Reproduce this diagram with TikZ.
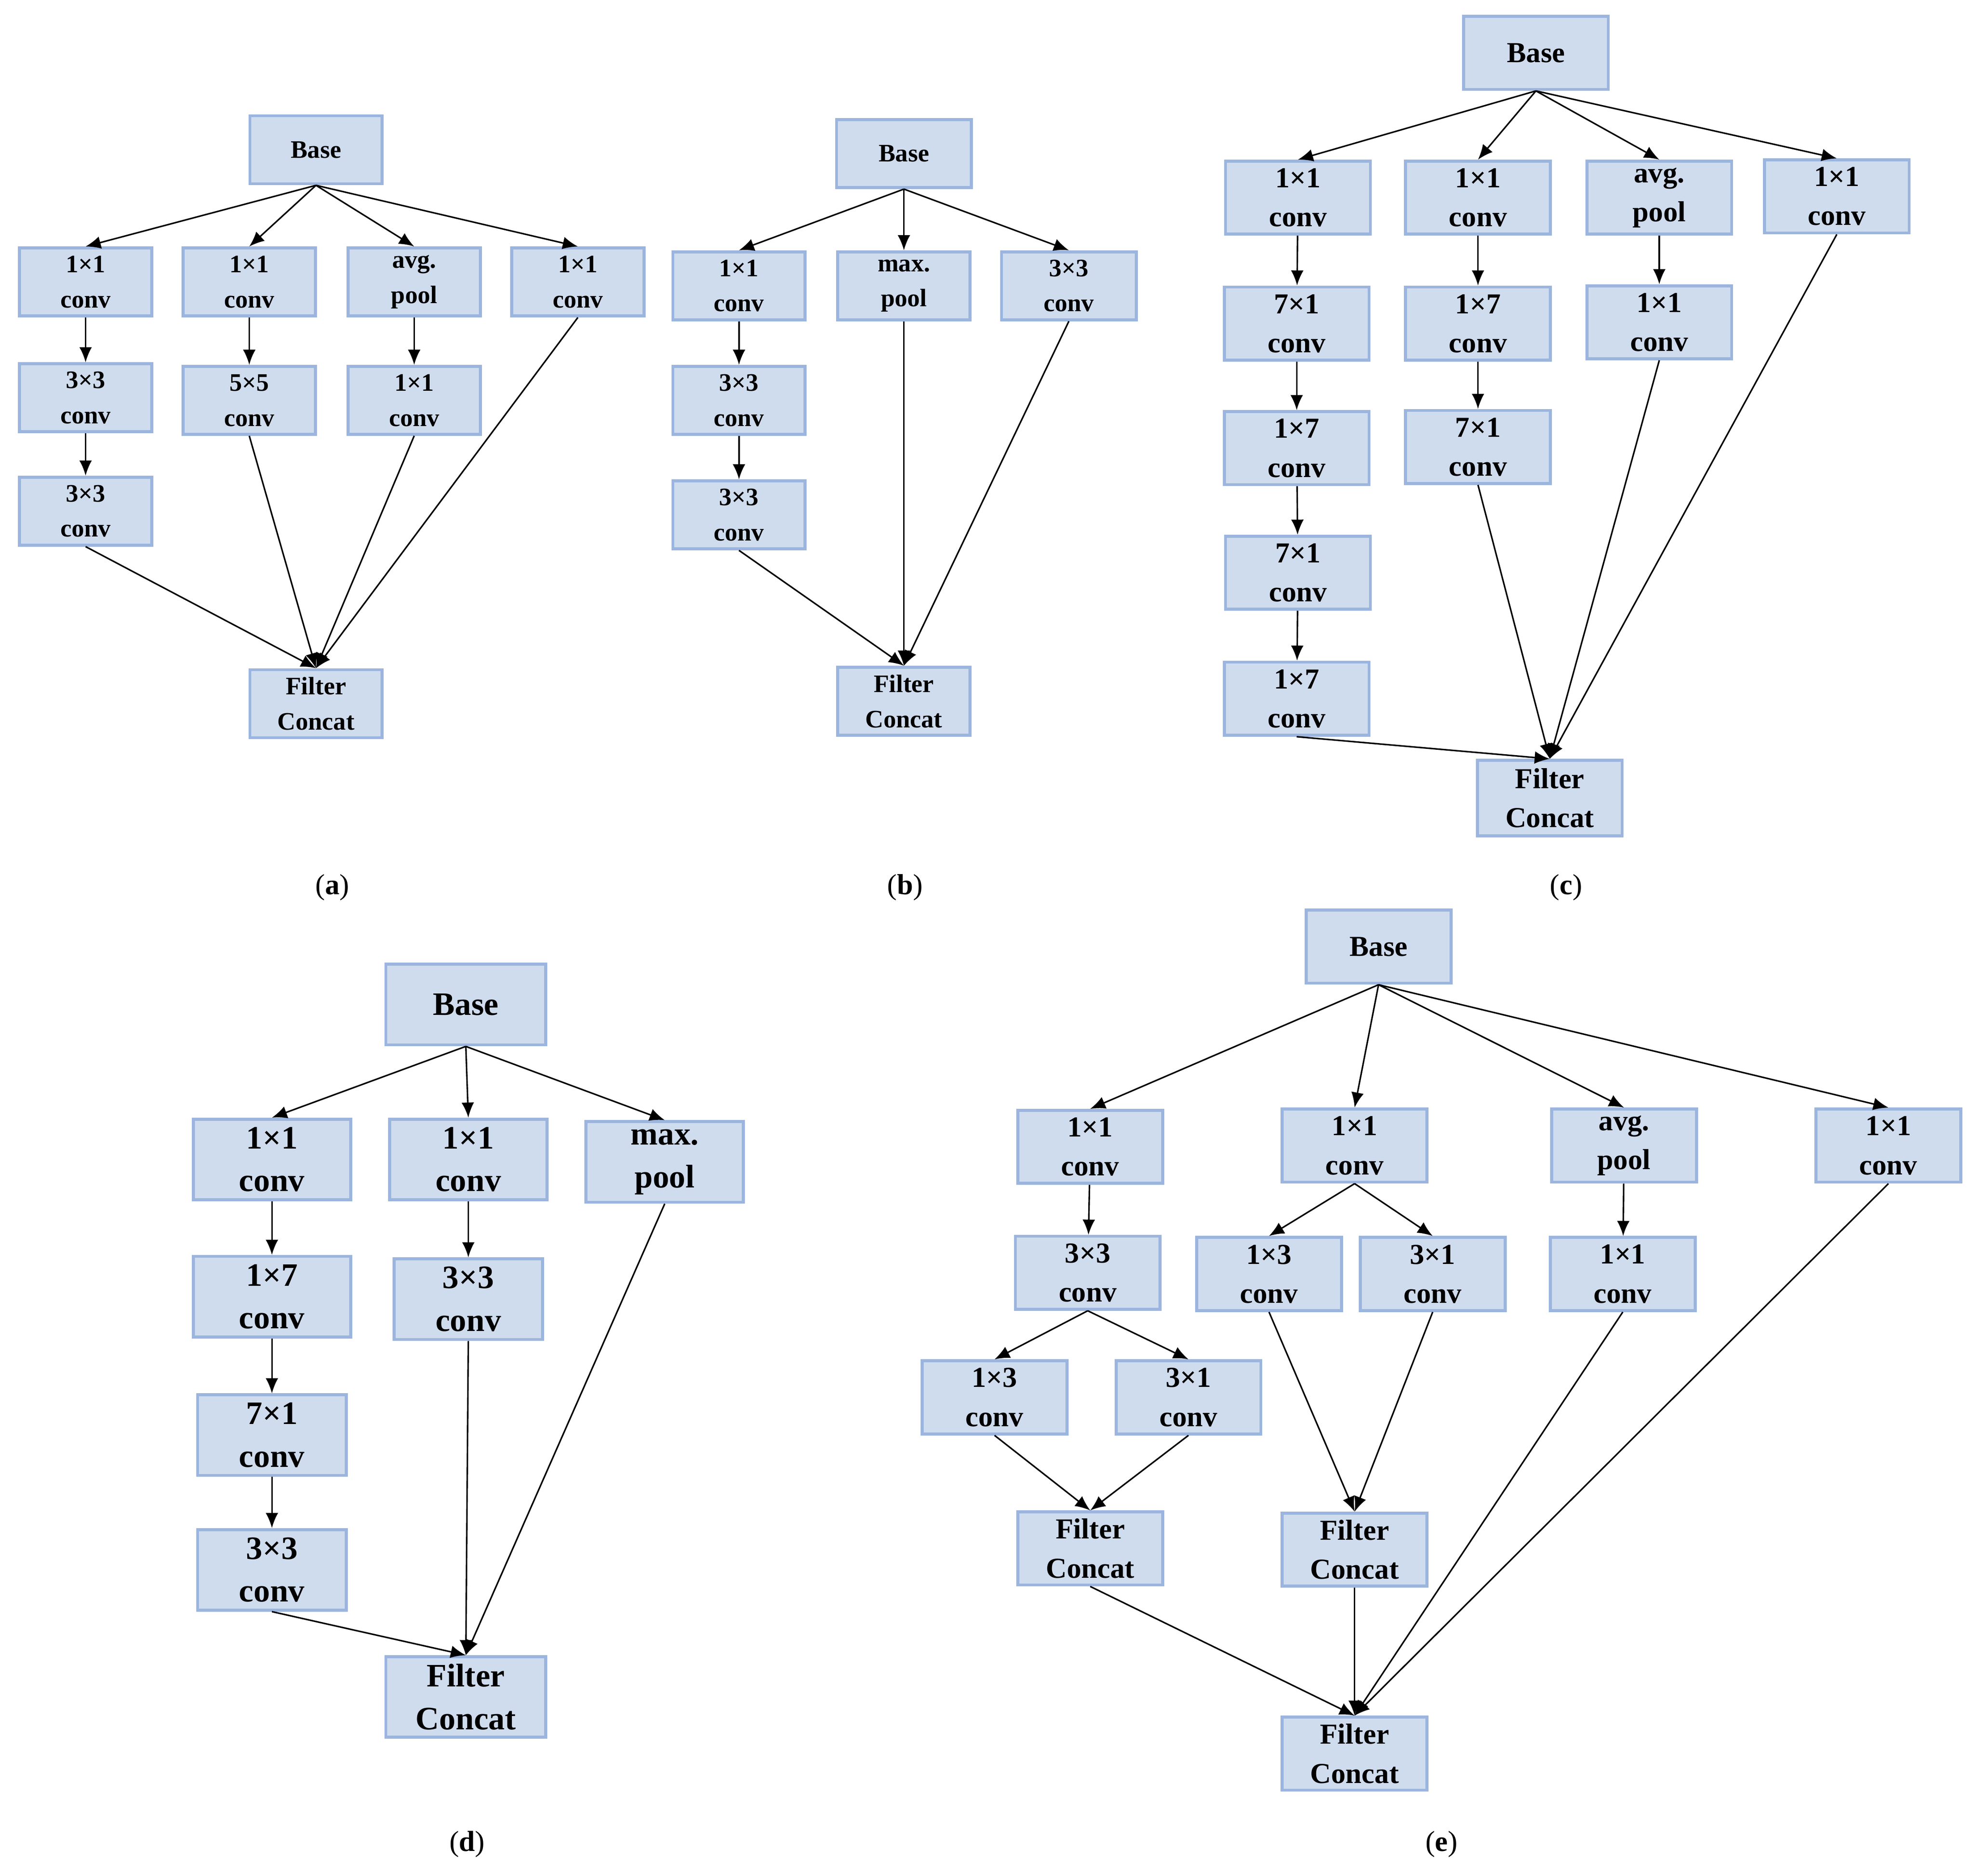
\documentclass[tikz,border=0pt]{standalone}
\usepackage{fontspec}
\setmainfont{Liberation Serif}
\usetikzlibrary{arrows.meta}
\definecolor{bfill}{HTML}{CFDCEE}
\definecolor{bdraw}{HTML}{9BB5DE}
\tikzset{
 bx/.style={draw=bdraw,fill=bfill,line width=1.2pt,inner sep=0pt,align=center,font=\bfseries},
 ar/.style={-{Latex[length=6pt,width=5pt]},line width=0.6pt},
 ln/.style={line width=0.6pt},
 fa/.style={font=\fontsize{10}{14}\selectfont\bfseries},
 fc/.style={font=\fontsize{11.5}{15.5}\selectfont\bfseries},
 fd/.style={font=\fontsize{13}{17}\selectfont\bfseries},
 lab/.style={font=\fontsize{11.5}{14}\selectfont}
}
% \B{name}{x}{y}{w}{h}{fontstyle}{text}
\newcommand{\B}[7]{\node[bx,#6,minimum width={#4*0.5pt},minimum height={#5*0.5pt}] (#1) at (#2,#3) {#7};}
\begin{document}
\begin{tikzpicture}[x=0.5pt,y=-0.5pt]
\useasboundingbox (0,0) rectangle (1568,1490);
% (a)
\B{aB}{251}{119}{105}{54}{fa}{Base}
\B{a1}{68}{224}{105}{54}{fa}{1×1\\conv}
\B{a2}{198}{224}{105}{54}{fa}{1×1\\conv}
\B{a3}{329}{224}{105}{54}{fa}{avg.\\pool}
\B{a4}{459}{224}{105}{54}{fa}{1×1\\conv}
\B{a5}{68}{316}{105}{54}{fa}{3×3\\conv}
\B{a6}{198}{318}{105}{54}{fa}{5×5\\conv}
\B{a7}{329}{318}{105}{54}{fa}{1×1\\conv}
\B{a8}{68}{406}{105}{54}{fa}{3×3\\conv}
\B{aF}{251}{559}{105}{54}{fa}{Filter\\Concat}
\foreach \n in {a1,a2,a3,a4} \draw[ar] (aB.south) -- (\n.north);
\draw[ar] (a1) -- (a5); \draw[ar] (a5) -- (a8); \draw[ar] (a2) -- (a6); \draw[ar] (a3) -- (a7);
\foreach \n in {a8,a6,a7,a4} \draw[ar] (\n.south) -- (aF.north);
\node[lab] (la) at (264,705) {(\textbf{a})};
% (b)
\B{bB}{718}{122}{107}{54}{fa}{Base}
\B{b1}{587}{227}{105}{54}{fa}{1×1\\conv}
\B{b2}{718}{227}{105}{54}{fa}{max.\\pool}
\B{b3}{849}{227}{107}{54}{fa}{3×3\\conv}
\B{b4}{587}{318}{105}{54}{fa}{3×3\\conv}
\B{b5}{587}{409}{105}{54}{fa}{3×3\\conv}
\B{bF}{718}{557}{105}{54}{fa}{Filter\\Concat}
\foreach \n in {b1,b2,b3} \draw[ar] (bB.south) -- (\n.north);
\draw[ar] (b1) -- (b4); \draw[ar] (b4) -- (b5);
\foreach \n in {b5,b2,b3} \draw[ar] (\n.south) -- (bF.north);
\node[lab] (lb) at (719,705) {(\textbf{b})};
% (c)
\B{cB}{1220}{42}{115}{58}{fc}{Base}
\B{c1}{1031}{157}{115}{58}{fc}{1×1\\conv}
\B{c2}{1174}{157}{115}{58}{fc}{1×1\\conv}
\B{c3}{1318}{157}{115}{58}{fc}{avg.\\pool}
\B{c4}{1459}{156}{115}{58}{fc}{1×1\\conv}
\B{c5}{1030}{257}{115}{58}{fc}{7×1\\conv}
\B{c6}{1030}{356}{115}{58}{fc}{1×7\\conv}
\B{c7}{1031}{455}{115}{58}{fc}{7×1\\conv}
\B{c8}{1030}{555}{115}{58}{fc}{1×7\\conv}
\B{c9}{1174}{257}{115}{58}{fc}{1×7\\conv}
\B{c10}{1174}{355}{115}{58}{fc}{7×1\\conv}
\B{c11}{1318}{256}{115}{58}{fc}{1×1\\conv}
\B{cF}{1231}{634}{115}{60}{fc}{Filter\\Concat}
\foreach \n in {c1,c2,c3,c4} \draw[ar] (cB.south) -- (\n.north);
\draw[ar] (c1) -- (c5); \draw[ar] (c5) -- (c6); \draw[ar] (c6) -- (c7); \draw[ar] (c7) -- (c8);
\draw[ar] (c2) -- (c9); \draw[ar] (c9) -- (c10); \draw[ar] (c3) -- (c11);
\foreach \n in {c8,c10,c11,c4} \draw[ar] (\n.south) -- (cF.north);
\node[lab] (lc) at (1244,705) {(\textbf{c})};
% (d)
\B{dB}{370}{798}{127}{64}{fd}{Base}
\B{d1}{216}{921}{125}{64}{fd}{1×1\\conv}
\B{d2}{372}{921}{125}{64}{fd}{1×1\\conv}
\B{d3}{528}{923}{125}{64}{fd}{max.\\pool}
\B{d4}{216}{1030}{125}{64}{fd}{1×7\\conv}
\B{d5}{216}{1140}{118}{64}{fd}{7×1\\conv}
\B{d6}{216}{1247}{118}{64}{fd}{3×3\\conv}
\B{d7}{372}{1032}{118}{64}{fd}{3×3\\conv}
\B{dF}{370}{1348}{127}{64}{fd}{Filter\\Concat}
\foreach \n in {d1,d2,d3} \draw[ar] (dB.south) -- (\n.north);
\draw[ar] (d1) -- (d4); \draw[ar] (d4) -- (d5); \draw[ar] (d5) -- (d6); \draw[ar] (d2) -- (d7);
\foreach \n in {d6,d7,d3} \draw[ar] (\n.south) -- (dF.north);
\node[lab] (ld) at (371,1465) {(\textbf{d})};
% (e)
\B{eB}{1095}{752}{115}{58}{fc}{Base}
\B{e1}{866}{911}{115}{58}{fc}{1×1\\conv}
\B{e2}{1076}{910}{115}{58}{fc}{1×1\\conv}
\B{e3}{1290}{910}{115}{58}{fc}{avg.\\pool}
\B{e4}{1500}{910}{115}{58}{fc}{1×1\\conv}
\B{e5}{864}{1011}{115}{58}{fc}{3×3\\conv}
\B{e6}{1008}{1012}{115}{58}{fc}{1×3\\conv}
\B{e7}{1138}{1012}{115}{58}{fc}{3×1\\conv}
\B{e8}{1289}{1012}{115}{58}{fc}{1×1\\conv}
\B{e9}{790}{1110}{115}{58}{fc}{1×3\\conv}
\B{e10}{944}{1110}{115}{58}{fc}{3×1\\conv}
\B{eF1}{866}{1230}{115}{58}{fc}{Filter\\Concat}
\B{eF2}{1076}{1231}{115}{58}{fc}{Filter\\Concat}
\B{eF}{1076}{1393}{115}{58}{fc}{Filter\\Concat}
\foreach \n in {e1,e2,e3,e4} \draw[ar] (eB.south) -- (\n.north);
\draw[ar] (e1) -- (e5); \draw[ar] (e3) -- (e8);
\draw[ar] (e5.south) -- (e9.north); \draw[ar] (e5.south) -- (e10.north);
\draw[ar] (e2.south) -- (e6.north); \draw[ar] (e2.south) -- (e7.north);
\draw[ar] (e9.south) -- (eF1.north); \draw[ar] (e10.south) -- (eF1.north);
\draw[ar] (e6.south) -- (eF2.north); \draw[ar] (e7.south) -- (eF2.north);
\foreach \n in {eF1,eF2,e8,e4} \draw[ar] (\n.south) -- (eF.north);
\node[lab] (le) at (1145,1465) {(\textbf{e})};
\end{tikzpicture}
\end{document}
